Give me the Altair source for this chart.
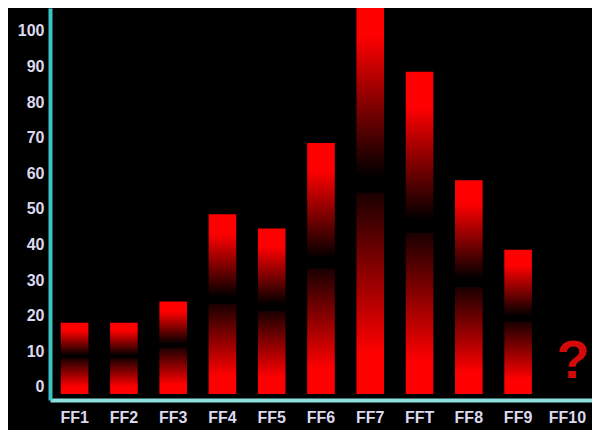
import altair as alt
import pandas as pd

categories = ["FF1", "FF2", "FF3", "FF4", "FF5", "FF6", "FF7", "FFT", "FF8", "FF9", "FF10"]
values = [20, 20, 26, 50.5, 46.5, 70.5, 113, 90.5, 60, 40.5, None]
y_ticks = [0, 10, 20, 30, 40, 50, 60, 70, 80, 90, 100]
unknown_cat = ["FF10"]
unknown_text = ["?"]
unknown_level = [9]

df = pd.DataFrame({"cat": categories, "value": values})
df_q = pd.DataFrame({"cat": unknown_cat, "txt": unknown_text, "lvl": unknown_level})

FONT = "Liberation Sans"
LABEL_COLOR = "#dcd8ee"

x_scale = alt.Scale(domain=categories, paddingInner=0.44, paddingOuter=0.22)
x_axis = alt.Axis(
    title=None, labelAngle=0, ticks=False, grid=False,
    domainColor="#8ee0e0", domainWidth=4,
    labelColor=LABEL_COLOR, labelFont=FONT, labelFontSize=16,
    labelFontWeight="bold", labelPadding=9, labelOverlap=False,
)

y_scale = alt.Scale(domain=[-1.7, 108.4], nice=False, zero=False)
y_axis = alt.Axis(
    title=None, values=y_ticks, ticks=False, grid=False,
    domainColor="#3cc4c4", domainWidth=4,
    labelColor=LABEL_COLOR, labelFont=FONT, labelFontSize=16,
    labelFontWeight="bold", labelPadding=6, labelOffset=-7,
    labelOverlap=False,
)

top_grad = alt.LinearGradient(
    gradient="linear", x1=0, y1=0, x2=0, y2=1,
    stops=[
        alt.GradientStop(offset=0, color="#ff0000"),
        alt.GradientStop(offset=0.22, color="#ff0000"),
        alt.GradientStop(offset=0.92, color="#000000"),
        alt.GradientStop(offset=1, color="#000000"),
    ],
)
bottom_grad = alt.LinearGradient(
    gradient="linear", x1=0, y1=0, x2=0, y2=1,
    stops=[
        alt.GradientStop(offset=0, color="#1a0000"),
        alt.GradientStop(offset=0.8, color="#ff0000"),
        alt.GradientStop(offset=1, color="#ff0000"),
    ],
)

base = alt.Chart(df).transform_filter("isValid(datum.value)").transform_calculate(
    mid="datum.value / 2"
)

top = base.mark_bar(color=top_grad, clip=True).encode(
    x=alt.X("cat:N", sort=categories, scale=x_scale, axis=x_axis),
    y=alt.Y("value:Q", scale=y_scale, axis=y_axis),
    y2="mid:Q",
)
bottom = base.mark_bar(color=bottom_grad, clip=True).encode(
    x=alt.X("cat:N", sort=categories, scale=x_scale, axis=x_axis),
    y=alt.Y("mid:Q", scale=y_scale, axis=y_axis),
    y2=alt.datum(0),
)

qmark = alt.Chart(df_q).mark_text(
    font=FONT, fontSize=54, fontWeight="bold", color="#d40a0a",
    baseline="middle", dx=6,
).encode(
    x=alt.X("cat:N", sort=categories, scale=x_scale, axis=x_axis),
    y=alt.Y("lvl:Q", scale=y_scale, axis=y_axis),
    text="txt:N",
)

chart = alt.layer(top, bottom, qmark).properties(
    width=542, height=392,
    background="black",
    padding={"left": 42, "top": 0, "right": 0, "bottom": 30},
    autosize=alt.AutoSizeParams(type="none"),
).configure_view(stroke=None)

chart.save("out.html", embed_options={"renderer": "svg", "actions": False})
